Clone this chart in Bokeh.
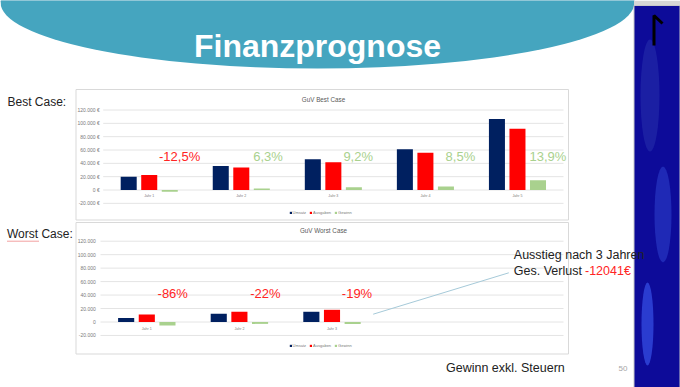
from bokeh.plotting import figure
from bokeh.models import Range1d, ColumnDataSource, Legend, LegendItem
from bokeh.embed import file_html
from bokeh.resources import INLINE
from bokeh.core.properties import value
from bokeh.transform import dodge

# ---------------- data ----------------
series = ["Umsatz", "Ausgaben", "Gewinn"]

best_years = ["Jahr 1", "Jahr 2", "Jahr 3", "Jahr 4", "Jahr 5"]
best_umsatz = [20000, 36000, 46000, 61000, 106500]
best_ausgaben = [22500, 33700, 41800, 55800, 91700]
best_gewinn = [-2500, 2300, 4200, 5200, 14800]
best_pct = ["-12,5%", "6,3%", "9,2%", "8,5%", "13,9%"]

worst_years = ["Jahr 1", "Jahr 2", "Jahr 3"]
worst_umsatz = [6000, 12300, 15200]
worst_ausgaben = [11200, 15100, 18100]
worst_gewinn = [-5200, -2800, -3000]
worst_pct = ["-86%", "-22%", "-19%"]

tick_values = [-20000, 0, 20000, 40000, 60000, 80000, 100000, 120000]
best_tick_labels = ["-20.000 €", "0 €", "20.000 €", "40.000 €", "60.000 €",
                    "80.000 €", "100.000 €", "120.000 €"]
worst_tick_labels = ["-20.000", "0", "20.000", "40.000", "60.000",
                     "80.000", "100.000", "120.000"]

# ---------------- styles / layout ----------------
FONT_NAME = "Liberation Sans"
FONT = value(FONT_NAME)
COLORS = ["#002060", "#ff0000", "#a9d18e"]
RED = "#ff2424"
GREEN = "#a9d18e"
GREY_TXT = "#7a7a7a"
N_SLOTS = 5

X0, X1 = 0, 680      # slide window (slide px)
Y0, Y1 = 0, 387

p = figure(width=680, height=387,
           x_range=Range1d(X0, X1), y_range=Range1d(Y1, Y0),
           x_axis_location=None, y_axis_location=None,
           output_backend="svg", toolbar_location=None,
           min_border=0, outline_line_color=None,
           background_fill_color="white", border_fill_color="white")
for g in p.grid:
    g.visible = False

# ---- slide decoration ----
p.quad(left=[0], right=[634], top=[0], bottom=[1.5],
       fill_color="#7fa9bd", line_color=None)
p.ellipse(x=[317], y=[2], width=[634], height=[132],
          fill_color="#45a5bf", line_color=None)
p.text(x=[317], y=[45], text=["Finanzprognose"], text_font=FONT,
       text_font_size="32px", text_font_style="bold", text_color="white",
       text_align="center", text_baseline="alphabetic")

p.quad(left=[633.5], right=[680], top=[0], bottom=[5],
       fill_color="#d6d6d6", line_color=None)
p.quad(left=[633.5], right=[679.5], top=[5], bottom=[390],
       fill_color="#0d0b99", line_color="#c8c8c8", line_width=1)
p.ellipse(x=[649.5, 662.5, 647], y=[95, 214, 323.5],
          width=[19, 17, 12], height=[112, 96, 83],
          fill_color=["#1b1fa3", "#1f29b6", "#2a3cd0"], line_color=None)
p.line(x=[662, 653.5, 653.5], y=[23, 15, 45], line_color="black", line_width=3)

p.text(x=[7], y=[101.5], text=["Best Case:"], text_font=FONT,
       text_font_size="12px", text_color="#222222", text_baseline="middle")
p.text(x=[6.5], y=[233.5], text=["Worst Case:"], text_font=FONT,
       text_font_size="12px", text_color="#222222", text_baseline="middle")
p.line(x=[6.5, 38.5], y=[240.7, 240.7], line_color="#f2a0a0", line_width=1)

p.text(x=[445.5], y=[367.5], text=["Gewinn exkl. Steuern"], text_font=FONT,
       text_font_size="12.5px", text_color="#222222", text_baseline="middle")
p.text(x=[622.5], y=[368], text=["50"], text_font=FONT, text_font_size="8px",
       text_color="#a6a6a6", text_align="center", text_baseline="middle")


def draw_chart(key, cats, um, au, ge, pct, tick_labels, title, geo):
    left, right, zero_px, top_px = geo["plot"]
    cw = (right - left) / N_SLOTS
    upp = 120000 / (zero_px - top_px)
    xr, yr = key + "x", key + "y"
    p.extra_x_ranges[xr] = Range1d((X0 - left) / cw, (X1 - left) / cw)
    p.extra_y_ranges[yr] = Range1d((zero_px - Y1) * upp, (zero_px - Y0) * upp)

    bl, br, bt, bb = geo["box"]
    p.quad(left=[bl], right=[br], top=[bt], bottom=[bb],
           fill_color="white", line_color="#d9d9d9", line_width=1)

    # gridlines
    p.segment(x0=[0] * len(tick_values), x1=[N_SLOTS] * len(tick_values),
              y0=tick_values, y1=tick_values, x_range_name=xr, y_range_name=yr,
              line_color="#e4e4e4", line_width=1)
    # tick labels
    p.text(x=[geo["tick_x"]] * len(tick_values), y=tick_values, text=tick_labels,
           y_range_name=yr, text_font=FONT, text_font_size="5px",
           text_color=GREY_TXT, text_align="right", text_baseline="middle")

    xs = [i + 0.5 for i in range(len(cats))]
    src = ColumnDataSource(dict(x=xs, Umsatz=um, Ausgaben=au, Gewinn=ge))
    offs = [-0.223, 0.0, 0.223]
    rends = []
    for s, c, o in zip(series, COLORS, offs):
        r = p.vbar(x=dodge("x", o), top=s, bottom=0, width=0.174, source=src,
                   x_range_name=xr, y_range_name=yr,
                   fill_color=c, line_color=None)
        rends.append(r)

    # category labels
    p.text(x=xs, y=[geo["cat_y"]] * len(xs), text=cats, x_range_name=xr,
           text_font=FONT, text_font_size="3.6px", text_color=GREY_TXT,
           text_align="center", text_baseline="middle")

    # percentage labels
    pcols = [RED if v < 0 else GREEN for v in ge]
    p.text(x=[x + d for x, d in zip(xs, geo["pct_dx"])],
           y=[geo["pct_y"]] * len(xs), text=pct,
           x_range_name=xr, y_range_name=yr, text_font=FONT,
           text_font_size="13px", text_color=pcols,
           text_align="center", text_baseline="middle")

    # chart title
    tx, ty = geo["title"]
    p.text(x=[tx], y=[ty], text=[title], text_font=FONT, text_font_size="6.3px",
           text_color="#595959", text_align="center", text_baseline="middle")

    lx, ly = geo["legend"]
    leg = Legend(items=[LegendItem(label=s, renderers=[r]) for s, r in zip(series, rends)],
                 orientation="horizontal", location=(lx - X0, Y1 - ly),
                 glyph_width=3, glyph_height=3, label_height=4, label_width=5,
                 label_text_font_size="4px", label_text_font=FONT_NAME,
                 label_text_color=GREY_TXT, label_standoff=1, spacing=3,
                 padding=0, margin=0, border_line_color=None,
                 background_fill_alpha=0)
    p.add_layout(leg)


draw_chart("best", best_years, best_umsatz, best_ausgaben, best_gewinn, best_pct,
           best_tick_labels, "GuV Best Case",
           dict(plot=(102.7, 563, 189.5, 109.5), box=(75.5, 568, 89, 219.5),
                tick_x=99.3, cat_y=195.5, title=(323, 99), legend=(288.5, 214.5),
                pct_y=50000, pct_dx=[0.33, 0.29, 0.27, 0.38, 0.33]))

draw_chart("worst", worst_years, worst_umsatz, worst_ausgaben, worst_gewinn, worst_pct,
           worst_tick_labels, "GuV Worst Case",
           dict(plot=(100, 563, 321.5, 240.7), box=(75.5, 568, 222, 353.5),
                tick_x=95.3, cat_y=328, title=(323, 229.7), legend=(288.5, 347.5),
                pct_y=42300, pct_dx=[0.28, 0.28, 0.27]))

# annotation
p.line(x=[372.7, 508.3], y=[313.7, 272.3], line_color="#a6cad9", line_width=1)
p.text(x=[513.3], y=[254.3], text=["Ausstieg nach 3 Jahren"], text_font=FONT,
       text_font_size="12.5px", text_color="#222222", text_baseline="middle")
p.text(x=[513.3], y=[270], text=["Ges. Verlust "], text_font=FONT,
       text_font_size="12.5px", text_color="#222222", text_baseline="middle")
p.text(x=[584.5], y=[270], text=["-12041€"], text_font=FONT,
       text_font_size="12.5px", text_color=RED, text_baseline="middle")

open("out.html", "w").write(file_html(p, INLINE))
